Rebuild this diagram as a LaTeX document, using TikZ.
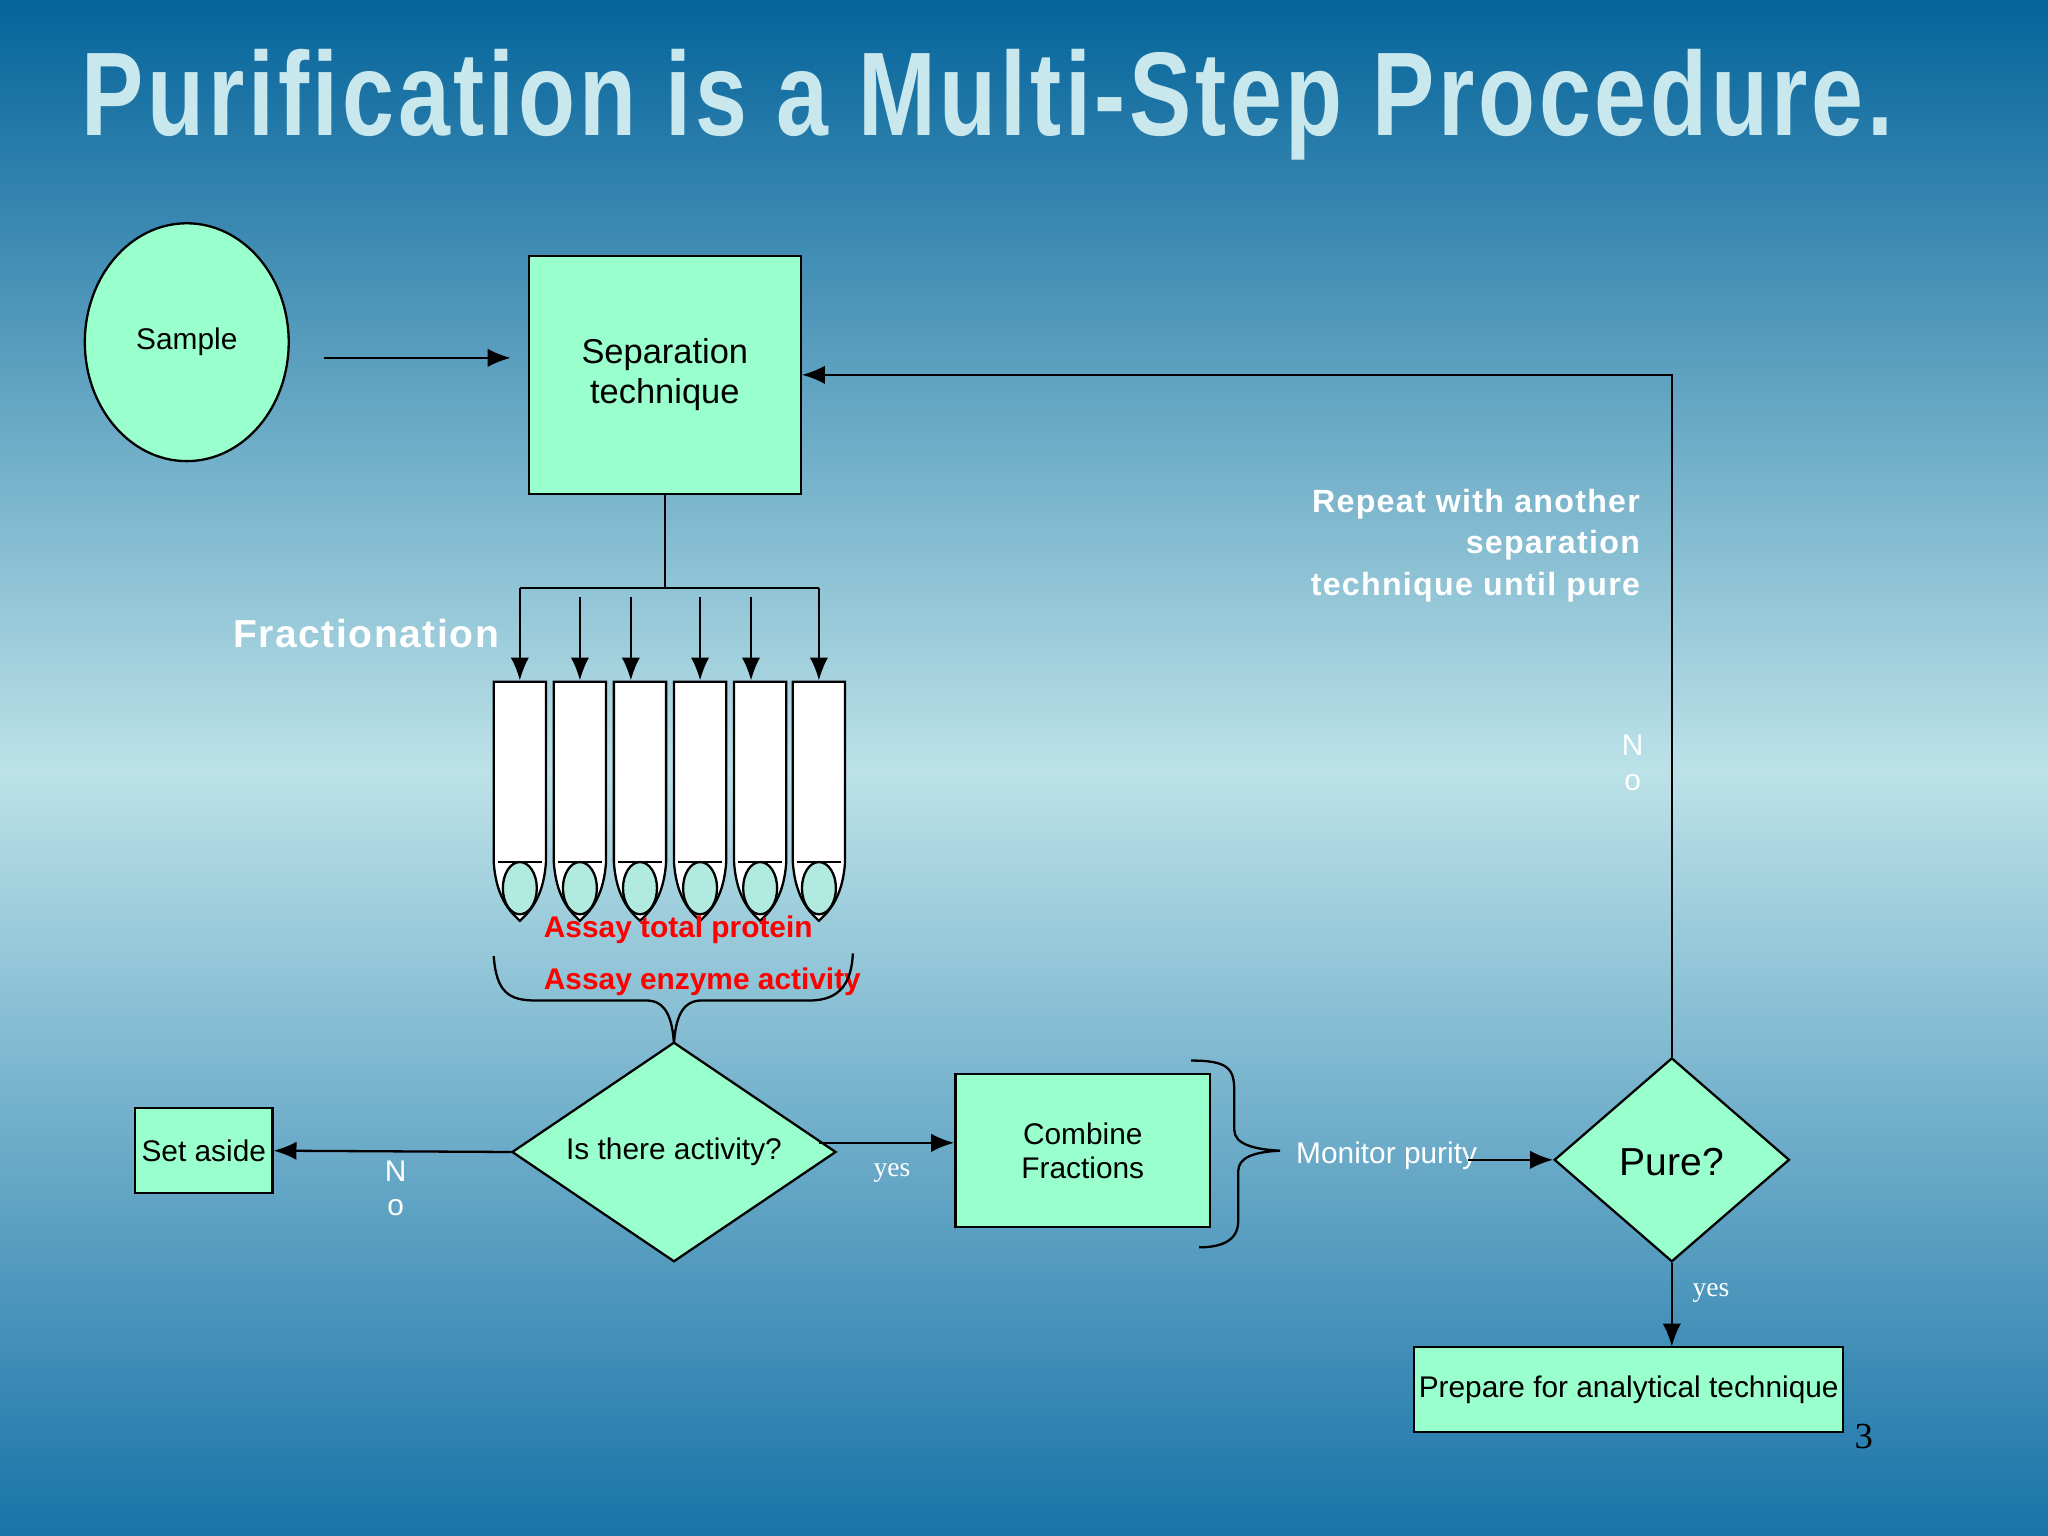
\documentclass[tikz,border=0pt]{standalone}
\usepackage{fontspec}
\setmainfont{Liberation Sans}
\newfontfamily\serf{Liberation Serif}
\newfontfamily\spaced[LetterSpace=4]{Liberation Sans}
\usetikzlibrary{shapes.geometric,arrows.meta}
\begin{document}
\begin{tikzpicture}[x=0.01cm,y=-0.01cm,
  arr/.style={-{Latex[length=5pt,width=4pt]}, line width=0.5pt},
  lbl/.style={font=\fontsize{6.5}{7.5}\selectfont, align=center}]
\definecolor{mint}{RGB}{153,255,204}
\definecolor{topc}{RGB}{5,100,155}
\definecolor{midc}{RGB}{188,226,232}
\definecolor{botc}{RGB}{25,115,168}
\useasboundingbox (0,0) rectangle (1568,1176);
\shade[top color=topc,bottom color=midc] (0,0) rectangle (1568,590);
\shade[top color=midc,bottom color=botc] (0,589) rectangle (1568,1176);
\node[anchor=west,inner sep=0,text=midc!80!white] (title) at (62,80) {\resizebox{13.86cm}{0.66cm}{\bfseries\spaced Purification is a Multi-Step Procedure.}};
\tikzset{box/.style={fill=mint,draw=black,line width=0.5pt,inner sep=1pt}}
\node[box,ellipse,minimum width=1.56cm,minimum height=1.82cm,lbl] (sample) at (143,262) {Sample};
\node[box,minimum width=2.08cm,minimum height=1.82cm,lbl,font=\fontsize{7.5}{8.8}\selectfont] (sep) at (509,287) {Separation\\technique};
\coordinate (sa) at (248,274);
\draw[arr] (sa) -- (391,274);
\node[anchor=west,text=white,font=\spaced\bfseries\fontsize{8.5}{11}\selectfont] (frac) at (166,485) {Fractionation};
\coordinate (bar) at (509,450);
\draw[line width=0.5pt] (sep.south) -- (bar);
\draw[line width=0.5pt] (398,450) -- (627,450);
\foreach \x/\t in {398/450,444/457,483/457,536/457,575/457,627/450}
  \draw[arr] (\x,\t) -- (\x,521);
\foreach \x in {398,444,490,536,582,627}{
  \draw[fill=white,line width=0.5pt] (\x-20,522) -- (\x+20,522) -- (\x+20,660) .. controls (\x+18,690) and (\x+5,700) .. (\x,705) .. controls (\x-5,700) and (\x-18,690) .. (\x-20,660) -- cycle;
  \draw[line width=0.5pt] (\x-17,660) -- (\x+17,660);
  \draw[fill=midc!70!mint,line width=0.5pt] (\x,680) ellipse (13 and 20);
}
\node[text=red,font=\bfseries\fontsize{6.5}{8}\selectfont,anchor=west] (at1) at (404,712) {Assay total protein};
\node[text=red,font=\bfseries\fontsize{6.5}{8}\selectfont,anchor=west] (at2) at (404,752) {Assay enzyme activity};
\draw[line width=0.5pt] (378,732) .. controls (380,760) and (390,766) .. (410,766) -- (495,766) .. controls (510,766) and (515,780) .. (516,800) .. controls (517,780) and (522,766) .. (537,766) -- (620,766) .. controls (645,766) and (652,750) .. (653,730);
\node[box,diamond,aspect=1.48,minimum width=2.48cm,minimum height=1.68cm,inner sep=0] (act) at (516,882) {};
\node[lbl] at (516,882) {Is there activity?};
\node[box,minimum width=1.05cm,minimum height=0.65cm,lbl] (aside) at (156,881) {Set aside};
\draw[arr] (act.west) -- (aside.east);
\node[lbl,text=white] (no1) at (303,910) {N\\o};
\node[box,minimum width=1.95cm,minimum height=1.17cm,lbl] (comb) at (829,881) {Combine\\Fractions};
\draw[arr] (627,875) -- (comb.west |- 0,875);
\node[text=white,font=\serf\fontsize{6}{7}\selectfont] (y1) at (683,898) {yes};
\draw[line width=0.5pt] (912,812) .. controls (940,812) and (945,818) .. (945,835) -- (945,865) .. controls (945,876) and (960,880) .. (980,881) .. controls (960,882) and (948,886) .. (948,897) -- (948,935) .. controls (948,950) and (935,955) .. (918,955);
\node[lbl,text=white,anchor=west] (mon) at (980,885) {Monitor purity};
\node[box,diamond,aspect=1.15,minimum width=1.80cm,minimum height=1.56cm,inner sep=0] (pure) at (1280,888) {};
\node[font=\fontsize{8.5}{10}\selectfont] at (1280,890) {Pure?};
\coordinate (ms) at (1124,888);
\draw[arr] (ms) -- (pure.west);
\node[box,minimum width=3.0cm,minimum height=0.65cm,lbl] (prep) at (1247,1064) {Prepare for analytical technique};
\draw[arr] (pure.south) -- (1280,1031);
\node[text=white,font=\serf\fontsize{6}{7}\selectfont] (y2) at (1310,990) {yes};
\draw[arr] (pure.north) -- (1280,287) -- (sep.east |- 0,287);
\node[lbl,text=white] (no2) at (1250,584) {N\\o};
\node[text=white,font=\spaced\bfseries\fontsize{7}{9}\selectfont,align=right,anchor=north east] (rep) at (1268,362) {Repeat with another\\separation\\technique until pure};
\node[font=\serf\fontsize{8}{9}\selectfont] (pg) at (1427,1100) {3};
\end{tikzpicture}
\end{document}
